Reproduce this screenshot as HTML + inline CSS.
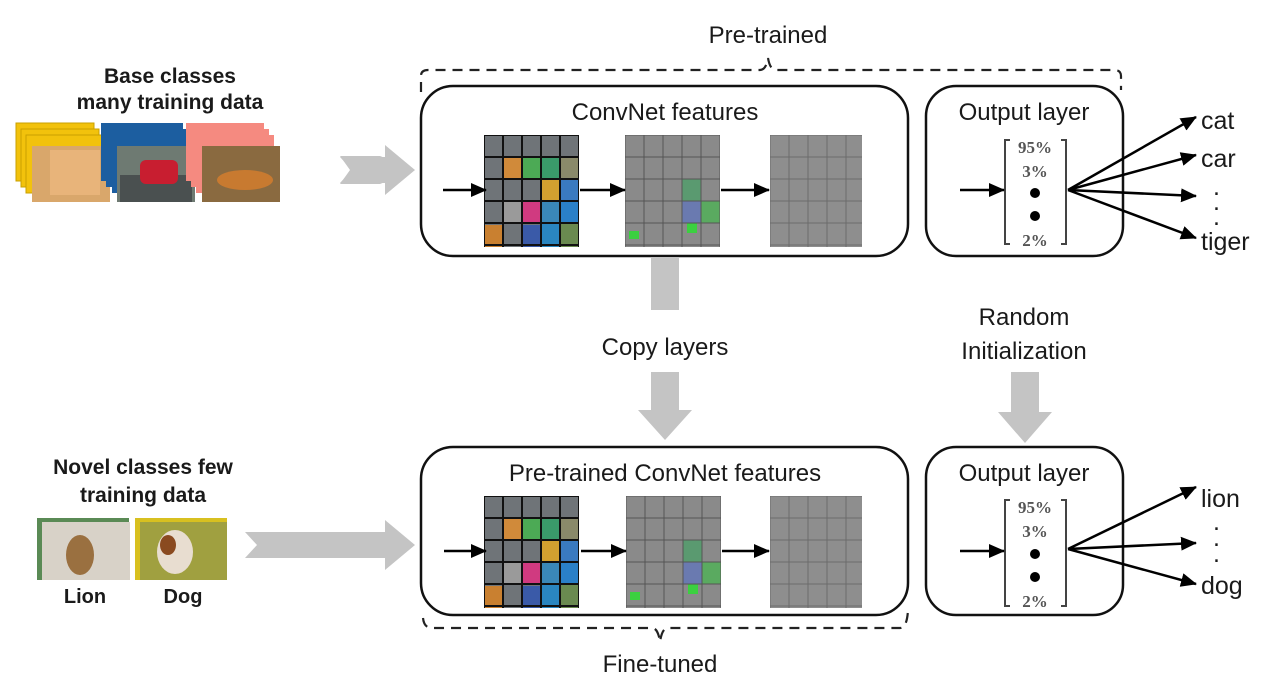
<!DOCTYPE html>
<html><head><meta charset="utf-8"><style>
html,body{margin:0;padding:0;background:#fff;width:1261px;height:691px;overflow:hidden}
svg{display:block}
text{font-family:"Liberation Sans",Arial,sans-serif;fill:#1a1a1a}
</style></head><body>
<svg width="1261" height="691" viewBox="0 0 1261 691" xmlns="http://www.w3.org/2000/svg">
<defs>
<marker id="ah" markerWidth="10" markerHeight="10" refX="9" refY="5" orient="auto" markerUnits="userSpaceOnUse" viewBox="0 0 10 10"><path d="M0,0 L10,5 L0,10 z" fill="#000"/></marker>
<marker id="ah2" markerWidth="16" markerHeight="14" refX="15" refY="7" orient="auto" markerUnits="userSpaceOnUse" viewBox="0 0 16 14"><path d="M0,0 L16,7 L0,14 z" fill="#000"/></marker>
<pattern id="g1" width="19" height="22" patternUnits="userSpaceOnUse"><rect width="19" height="22" fill="none" stroke="#111" stroke-width="2"/></pattern>
<pattern id="g2" width="19" height="22" patternUnits="userSpaceOnUse"><rect width="19" height="22" fill="none" stroke="#555" stroke-width="1"/></pattern>
<g id="grid1">
<rect width="95" height="112" fill="#6f7478"/>
<rect x="19" y="22" width="19" height="22" fill="#d08a3a"/>
<rect x="38" y="22" width="19" height="22" fill="#4caa55"/>
<rect x="57" y="22" width="19" height="22" fill="#3a9a6a"/>
<rect x="76" y="22" width="19" height="22" fill="#8a8a6a"/>
<rect x="57" y="44" width="19" height="22" fill="#d2a030"/>
<rect x="76" y="44" width="19" height="22" fill="#3a7ac0"/>
<rect x="38" y="66" width="19" height="22" fill="#d03a80"/>
<rect x="76" y="66" width="19" height="22" fill="#2a80c8"/>
<rect x="57" y="88" width="19" height="24" fill="#2a86c0"/>
<rect x="76" y="88" width="19" height="24" fill="#6a8a50"/>
<rect x="0" y="90" width="19" height="22" fill="#c98030"/>
<rect x="57" y="66" width="19" height="22" fill="#3a88b8"/>
<rect x="19" y="66" width="19" height="22" fill="#9a9a9a"/>
<rect x="38" y="90" width="19" height="22" fill="#3a5aa8"/>
<rect width="95" height="112" fill="url(#g1)"/>
</g>
<g id="grid2">
<rect width="95" height="112" fill="#8a8a8a"/>
<rect x="57" y="44" width="19" height="22" fill="#5a9a70"/>
<rect x="57" y="66" width="19" height="22" fill="#6a7ab0"/>
<rect x="76" y="66" width="19" height="22" fill="#5aaa60"/>
<rect x="62" y="88" width="10" height="10" fill="#3bd040"/>
<rect x="4" y="96" width="10" height="8" fill="#3bd040"/>
<rect width="95" height="112" fill="url(#g2)"/>
</g>
<g id="grid3">
<rect width="92" height="112" fill="#8e8e8e"/>
<rect width="92" height="112" fill="url(#g2)" opacity="0.6"/>
</g>
<g id="gray1"><path d="M0,-10 H40 V-22 L75,0 L40,22 V10 H0 Z" fill="#c4c4c4"/></g>
</defs>

<!-- Top section -->
<text x="768" y="43" font-size="24" text-anchor="middle">Pre-trained</text>
<path d="M421,92 V76 Q421,70 428,70 H760 Q766,70 768,58 Q770,70 776,70 H1114 Q1121,70 1121,76 V90" fill="none" stroke="#222" stroke-width="2.2" stroke-dasharray="10,7"/>
<rect x="421" y="86" width="487" height="170" rx="32" fill="none" stroke="#111" stroke-width="2.5"/>
<rect x="926" y="86" width="197" height="170" rx="30" fill="none" stroke="#111" stroke-width="2.5"/>
<text x="665" y="120" font-size="24" text-anchor="middle">ConvNet features</text>
<text x="1024" y="120" font-size="24" text-anchor="middle">Output layer</text>
<use href="#grid1" x="484" y="135"/>
<use href="#grid2" x="625" y="135"/>
<use href="#grid3" x="770" y="135"/>
<line x1="443" y1="190" x2="486" y2="190" stroke="#000" stroke-width="2.5" marker-end="url(#ah2)"/>
<line x1="580" y1="190" x2="625" y2="190" stroke="#000" stroke-width="2.5" marker-end="url(#ah2)"/>
<line x1="721" y1="190" x2="769" y2="190" stroke="#000" stroke-width="2.5" marker-end="url(#ah2)"/>
<!-- output vector top -->
<path d="M1010,140 H1005 V244 H1010 M1061,140 H1066 V244 H1061" fill="none" stroke="#444" stroke-width="2"/>
<text x="1035" y="153" font-size="17" font-weight="bold" font-family="Liberation Serif" text-anchor="middle" style="font-family:'Liberation Serif',serif;fill:#555">95%</text>
<text x="1035" y="177" font-size="17" font-weight="bold" text-anchor="middle" style="font-family:'Liberation Serif',serif;fill:#555">3%</text>
<circle cx="1035" cy="193" r="5" fill="#000"/>
<circle cx="1035" cy="216" r="5" fill="#000"/>
<text x="1035" y="246" font-size="17" font-weight="bold" text-anchor="middle" style="font-family:'Liberation Serif',serif;fill:#555">2%</text>
<line x1="960" y1="190" x2="1004" y2="190" stroke="#000" stroke-width="2.5" marker-end="url(#ah2)"/>
<g stroke="#000" stroke-width="2.5">
<line x1="1068" y1="190" x2="1196" y2="117" marker-end="url(#ah2)"/>
<line x1="1068" y1="190" x2="1196" y2="155" marker-end="url(#ah2)"/>
<line x1="1068" y1="190" x2="1196" y2="196" marker-end="url(#ah2)"/>
<line x1="1068" y1="190" x2="1196" y2="238" marker-end="url(#ah2)"/>
</g>
<g font-size="25">
<text x="1201" y="129">cat</text>
<text x="1201" y="167">car</text>
<text x="1213" y="195">.</text><text x="1213" y="210">.</text><text x="1213" y="225">.</text>
<text x="1201" y="250">tiger</text>
</g>

<!-- Base classes -->
<text x="170" y="83" font-size="21" font-weight="bold" text-anchor="middle">Base classes</text>
<text x="170" y="109" font-size="21" font-weight="bold" text-anchor="middle">many training data</text>
<g>
<rect x="16" y="123" width="78" height="58" fill="#f2c20c" stroke="#c9a000"/>
<rect x="21" y="129" width="78" height="58" fill="#f2c20c" stroke="#c9a000"/>
<rect x="26" y="135" width="78" height="58" fill="#f2c20c" stroke="#c9a000"/>
<rect x="32" y="146" width="78" height="56" fill="#d9a76b"/>
<rect x="50" y="150" width="50" height="45" fill="#e8b47a"/>
<rect x="101" y="123" width="82" height="58" fill="#1c5ea0"/>
<rect x="106" y="129" width="82" height="58" fill="#1c5ea0"/>
<rect x="112" y="135" width="82" height="58" fill="#1c5ea0"/>
<rect x="117" y="146" width="78" height="56" fill="#6e7a72"/>
<rect x="120" y="175" width="72" height="27" fill="#4a5050"/>
<rect x="140" y="160" width="38" height="24" rx="6" fill="#c81e30"/>
<rect x="186" y="123" width="78" height="58" fill="#f58a80"/>
<rect x="191" y="129" width="78" height="58" fill="#f58a80"/>
<rect x="196" y="135" width="78" height="58" fill="#f58a80"/>
<rect x="202" y="146" width="78" height="56" fill="#8a6a40"/>
<ellipse cx="245" cy="180" rx="28" ry="10" fill="#c87a30"/>
</g>
<g transform="translate(340,170)"><path d="M0,-14 H40 L75,0 L40,14 H0 L10,0 Z" fill="#c4c4c4"/></g>
<path d="M340,157 L385,157 L385,145 L415,170 L385,195 L385,183 L340,183 L352,170 Z" fill="#c4c4c4"/>

<!-- Middle arrows -->
<rect x="651" y="258" width="28" height="52" fill="#c4c4c4"/>
<path d="M651,372 H679 V410 H692 L665,440 L638,410 H651 Z" fill="#c4c4c4"/>
<text x="665" y="355" font-size="24" text-anchor="middle">Copy layers</text>
<text x="1024" y="325" font-size="24" text-anchor="middle">Random</text>
<text x="1024" y="359" font-size="24" text-anchor="middle">Initialization</text>
<path d="M1011,372 H1039 V412 H1052 L1025,443 L998,412 H1011 Z" fill="#c4c4c4"/>

<!-- Bottom section -->
<rect x="421" y="447" width="487" height="168" rx="32" fill="none" stroke="#111" stroke-width="2.5"/>
<rect x="926" y="447" width="197" height="168" rx="30" fill="none" stroke="#111" stroke-width="2.5"/>
<path d="M423,618 Q424,628 432,628 H652 Q658,628 660,642 Q662,628 668,628 H900 Q907,628 908,610" fill="none" stroke="#222" stroke-width="2.2" stroke-dasharray="10,7"/>
<text x="660" y="672" font-size="24" text-anchor="middle">Fine-tuned</text>
<text x="665" y="481" font-size="24" text-anchor="middle">Pre-trained ConvNet features</text>
<text x="1024" y="481" font-size="24" text-anchor="middle">Output layer</text>
<use href="#grid1" x="484" y="496"/>
<use href="#grid2" x="626" y="496"/>
<use href="#grid3" x="770" y="496"/>
<line x1="444" y1="551" x2="486" y2="551" stroke="#000" stroke-width="2.5" marker-end="url(#ah2)"/>
<line x1="581" y1="551" x2="626" y2="551" stroke="#000" stroke-width="2.5" marker-end="url(#ah2)"/>
<line x1="722" y1="551" x2="769" y2="551" stroke="#000" stroke-width="2.5" marker-end="url(#ah2)"/>
<path d="M1010,500 H1005 V606 H1010 M1061,500 H1066 V606 H1061" fill="none" stroke="#444" stroke-width="2"/>
<text x="1035" y="513" font-size="17" font-weight="bold" text-anchor="middle" style="font-family:'Liberation Serif',serif;fill:#555">95%</text>
<text x="1035" y="537" font-size="17" font-weight="bold" text-anchor="middle" style="font-family:'Liberation Serif',serif;fill:#555">3%</text>
<circle cx="1035" cy="554" r="5" fill="#000"/>
<circle cx="1035" cy="577" r="5" fill="#000"/>
<text x="1035" y="607" font-size="17" font-weight="bold" text-anchor="middle" style="font-family:'Liberation Serif',serif;fill:#555">2%</text>
<line x1="960" y1="551" x2="1004" y2="551" stroke="#000" stroke-width="2.5" marker-end="url(#ah2)"/>
<g stroke="#000" stroke-width="2.5">
<line x1="1068" y1="549" x2="1196" y2="487" marker-end="url(#ah2)"/>
<line x1="1068" y1="549" x2="1196" y2="543" marker-end="url(#ah2)"/>
<line x1="1068" y1="549" x2="1196" y2="584" marker-end="url(#ah2)"/>
</g>
<g font-size="25">
<text x="1201" y="507">lion</text>
<text x="1213" y="530">.</text><text x="1213" y="546">.</text><text x="1213" y="562">.</text>
<text x="1201" y="594">dog</text>
</g>

<text x="143" y="474" font-size="21" font-weight="bold" text-anchor="middle">Novel classes few</text>
<text x="143" y="502" font-size="21" font-weight="bold" text-anchor="middle">training data</text>
<rect x="37" y="518" width="92" height="62" fill="#5a8a55"/>
<rect x="42" y="522" width="88" height="58" fill="#d8d2c8"/>
<ellipse cx="80" cy="555" rx="14" ry="20" fill="#9a7040"/>
<rect x="135" y="518" width="92" height="62" fill="#d8c020"/>
<rect x="140" y="522" width="87" height="58" fill="#a0a040"/>
<ellipse cx="175" cy="552" rx="18" ry="22" fill="#e8ddd0"/>
<ellipse cx="168" cy="545" rx="8" ry="10" fill="#8a4a20"/>
<text x="85" y="603" font-size="20" font-weight="bold" text-anchor="middle">Lion</text>
<text x="183" y="603" font-size="20" font-weight="bold" text-anchor="middle">Dog</text>
<path d="M245,532 L385,532 L385,520 L415,545 L385,570 L385,558 L245,558 L257,545 Z" fill="#c4c4c4"/>
</svg>
</body></html>
